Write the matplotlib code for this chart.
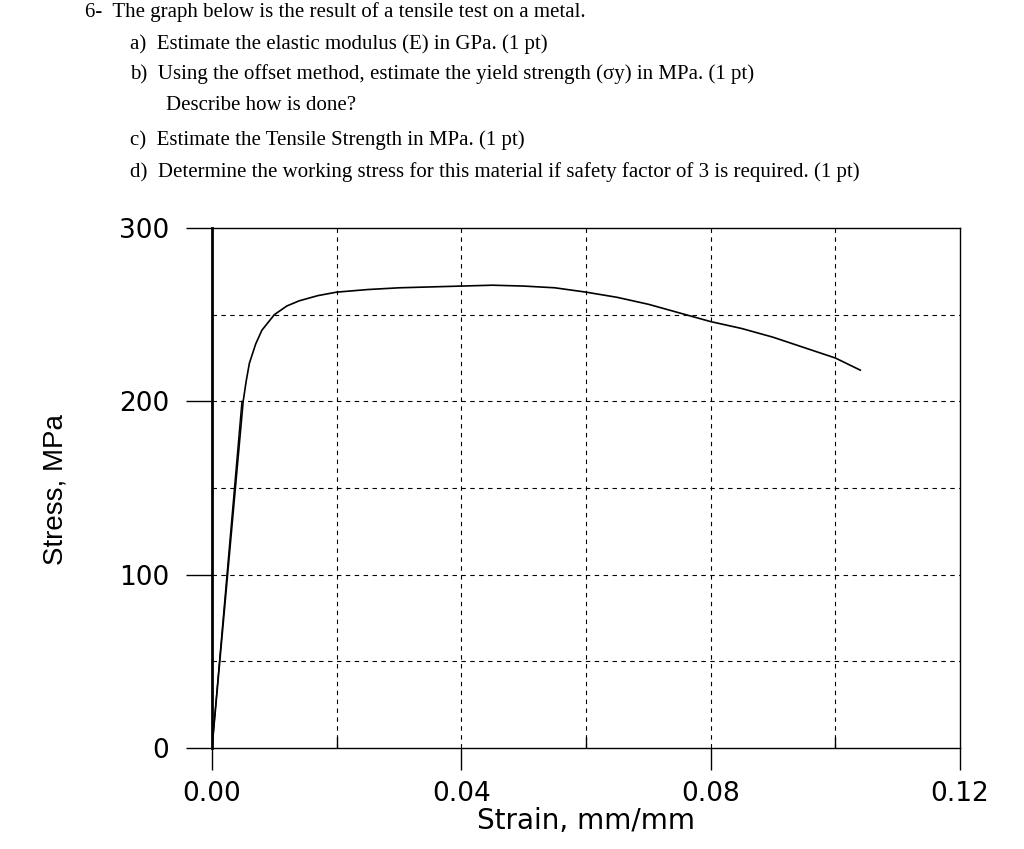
import matplotlib
matplotlib.use("Agg")
import matplotlib.pyplot as plt

strain = [0.0, 0.001, 0.002, 0.003, 0.004, 0.005, 0.0055, 0.006, 0.007, 0.008, 0.010, 0.012, 0.014, 0.017, 0.020,
          0.025, 0.030, 0.035, 0.040, 0.045, 0.050, 0.055, 0.060, 0.065, 0.070, 0.075, 0.080, 0.085, 0.090, 0.095, 0.100, 0.104]
stress = [0, 40, 80, 120, 160, 200, 212, 222, 233, 241, 250, 255, 258, 261, 263,
          264.5, 265.5, 266, 266.5, 267, 266.5, 265.5, 263, 260, 256, 251, 246, 242, 237, 231, 225, 218]
xticks = [0.00, 0.04, 0.08, 0.12]
xtick_labels = ["0.00", "0.04", "0.08", "0.12"]
yticks = [0, 100, 200, 300]

questions = [
    (85, 12, "6-  The graph below is the result of a tensile test on a metal."),
    (130, 44, "a)  Estimate the elastic modulus (E) in GPa. (1 pt)"),
    (130, 74, "b)  Using the offset method, estimate the yield strength (\u03c3y) in MPa. (1 pt)"),
    (166, 106, "Describe how is done?"),
    (130, 140, "c)  Estimate the Tensile Strength in MPa. (1 pt)"),
    (130, 172, "d)  Determine the working stress for this material if safety factor of 3 is required. (1 pt)"),
]

W, H = 1024, 849
fig = plt.figure(figsize=(W/100, H/100), dpi=100)
for x, y, t in questions:
    fig.text(x/W, 1-y/H, t, family="Liberation Serif", fontsize=15, va="center", ha="left")

ax = fig.add_axes([212/W, 1-748/H, (960-212)/W, (748-228)/H])
ax.plot(strain, stress, color="black", lw=1.2)
ax.plot([0, 0.0048], [0, 200], color="black", lw=1.0)
ax.set_xlim(0, 0.12)
ax.set_ylim(0, 300)
for gx in [0.02, 0.04, 0.06, 0.08, 0.10]:
    ax.axvline(gx, color="black", lw=0.8, ls=(0, (4, 4)))
for gy in [50, 100, 150, 200, 250]:
    ax.axhline(gy, color="black", lw=0.8, ls=(0, (4, 4)))
ax.set_xticks(xticks)
ax.set_xticklabels(xtick_labels, family="DejaVu Sans", fontsize=19)
ax.set_yticks(yticks)
ax.set_yticklabels([str(v) for v in yticks], family="DejaVu Sans", fontsize=19)
ax.set_xticks([0.02, 0.06, 0.10], minor=True)
ax.tick_params(axis="x", which="major", direction="out", length=16, width=1, pad=8)
ax.tick_params(axis="x", which="minor", direction="in", length=8, width=1)
ax.tick_params(axis="y", direction="out", length=19, width=1, pad=12)
ax.spines["left"].set_linewidth(2)
for s in ["top", "right", "bottom"]:
    ax.spines[s].set_linewidth(1)
ax.set_xlabel("Strain, mm/mm", family="DejaVu Sans", fontsize=20, labelpad=0)
fig.text(55/W, 1-490/H, "Stress, MPa", rotation=90, family="Liberation Sans", fontsize=20, va="center", ha="center")
fig.savefig("out.png", dpi=100)
